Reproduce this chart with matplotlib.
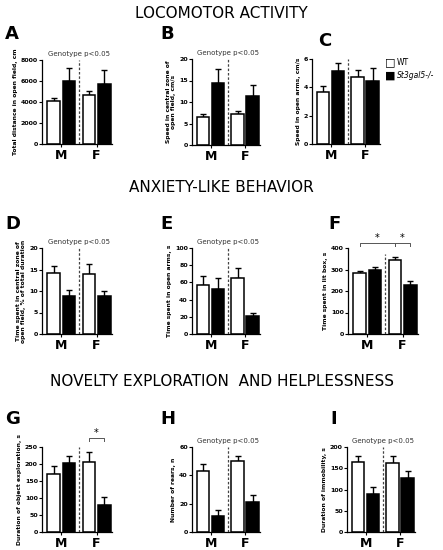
import matplotlib.pyplot as plt
import numpy as np

# group means and SEM: order WT-M, KO-M, WT-F, KO-F
dist_mean = [4100, 6000, 4700, 5700]
dist_err = [300, 1200, 350, 1350]
speed_c_mean = [6.5, 14.4, 7.1, 11.3]
speed_c_err = [0.6, 3.3, 0.8, 2.7]
speed_o_mean = [3.7, 5.15, 4.7, 4.45]
speed_o_err = [0.4, 0.55, 0.5, 0.9]
center_mean = [14.2, 8.8, 14.0, 8.8]
center_err = [1.5, 1.5, 2.2, 1.3]
open_mean = [57, 52, 65, 21]
open_err = [10, 13, 12, 3]
lit_mean = [285, 298, 345, 228]
lit_err = [10, 12, 12, 18]
explo_mean = [172, 202, 205, 78]
explo_err = [22, 22, 30, 25]
rears_mean = [43, 11, 50, 21]
rears_err = [5, 4.5, 3.5, 5]
immob_mean = [165, 89, 162, 127]
immob_err = [13, 17, 17, 17]

groups = ['M', 'F']
xpos = np.array([0.0, 1.0, 2.3, 3.3])

W, H = 443, 550
fig = plt.figure(figsize=(W / 100, H / 100), dpi=100)


def make_ax(x, ytop, w, ybot):
    return fig.add_axes([x / W, 1 - ybot / H, w / W, (ybot - ytop) / H])


def panel(ax, mean, err, ymax, ystep, ylabel, genotype=True, dash_top=1.0):
    ax.errorbar(xpos, mean, yerr=[np.zeros(4), err], fmt='none', ecolor='black',
                elinewidth=1.0, capsize=2.5, capthick=1.0, zorder=1)
    ax.bar(xpos, mean, width=0.82, color=['white', 'black', 'white', 'black'],
           edgecolor='black', linewidth=1.1, zorder=2)
    ax.set_xlim(-0.75, 3.8)
    ax.set_ylim(0, ymax)
    ax.set_yticks(np.arange(0, ymax + ystep / 2, ystep))
    ax.set_xticks([0.5, 2.8])
    ax.set_xticklabels(groups, fontsize=9, fontweight='bold')
    for lab in ax.get_yticklabels():
        lab.set_fontweight('bold')
    ax.tick_params(axis='y', labelsize=4.5, length=2, width=0.8, pad=1)
    ax.tick_params(axis='x', length=2.5, width=0.8, pad=1)
    ax.spines['top'].set_visible(False)
    ax.spines['right'].set_visible(False)
    ax.spines['left'].set_linewidth(0.9)
    ax.spines['bottom'].set_linewidth(0.9)
    ax.axvline(1.65, ymin=0, ymax=dash_top, color='#444444', ls=(0, (2, 1.5)), lw=0.9)
    ax.set_ylabel(ylabel, fontsize=4.3, fontweight='bold', labelpad=2, linespacing=1.0)
    if genotype:
        ax.text(1.65, 1.04, 'Genotype p<0.05', transform=ax.get_xaxis_transform(),
                ha='center', va='bottom', fontsize=5, color='#333333')


def letter(x, y, s):
    fig.text(x / W, 1 - y / H, s, fontsize=13, fontweight='bold', ha='left', va='center')


def header(y, s):
    fig.text(0.5, 1 - y / H, s, fontsize=11, ha='center', va='center')


header(13, 'LOCOMOTOR ACTIVITY')
header(188, 'ANXIETY-LIKE BEHAVIOR')
header(381, 'NOVELTY EXPLORATION  AND HELPLESSNESS')

letter(5, 34, 'A')
letter(160, 34, 'B')
letter(318, 41, 'C')
letter(5, 224, 'D')
letter(160, 224, 'E')
letter(328, 224, 'F')
letter(5, 419, 'G')
letter(160, 419, 'H')
letter(330, 419, 'I')

axA = make_ax(42, 60, 70, 144)
panel(axA, dist_mean, dist_err, 8000, 2000, 'Total distance in open field, cm')
axB = make_ax(192, 59, 68, 145)
panel(axB, speed_c_mean, speed_c_err, 20, 5, 'Speed in central zone of\nopen field, cm/s')
axC = make_ax(312, 59, 68, 144)
panel(axC, speed_o_mean, speed_o_err, 6, 2, 'Speed in open arms, cm/s', genotype=False)

axD = make_ax(42, 248, 70, 334)
panel(axD, center_mean, center_err, 20, 5,
      'Time spent in central zone of\nopen field, % of total duration')
axE = make_ax(192, 248, 68, 334)
panel(axE, open_mean, open_err, 100, 20, 'Time spent in open arms, s')
axF = make_ax(348, 248, 70, 334)
panel(axF, lit_mean, lit_err, 400, 100, 'Time spent in lit box, s', genotype=False, dash_top=0.93)

axG = make_ax(42, 447, 70, 532)
panel(axG, explo_mean, explo_err, 250, 50, 'Duration of object exploration, s', genotype=False)
axH = make_ax(192, 447, 68, 532)
panel(axH, rears_mean, rears_err, 60, 20, 'Number of rears, n')
axI = make_ax(347, 447, 68, 532)
panel(axI, immob_mean, immob_err, 200, 50, 'Duration of immobility, s')


def bracket(ax, x1, x2, y, h):
    ax.plot([x1, x1, x2, x2], [y - h, y, y, y - h], color='#555555', lw=0.7, clip_on=False)
    ax.text((x1 + x2) / 2, y, '*', ha='center', va='bottom', fontsize=7, clip_on=False)


bracket(axF, xpos[0], xpos[2], 423, 14)
bracket(axF, xpos[2], xpos[3], 423, 14)
bracket(axG, xpos[2], xpos[3], 276, 9)

# legend next to panel C
fig.text(385 / W, 1 - 62 / H, '\u25a1', fontsize=8, ha='left', va='center')
fig.text(397 / W, 1 - 62 / H, 'WT', fontsize=5.5, ha='left', va='center')
fig.text(385 / W, 1 - 76 / H, '\u25a0', fontsize=8, ha='left', va='center')
fig.text(397 / W, 1 - 76 / H, 'St3gal5-/-', fontsize=5.5, style='italic', ha='left', va='center')

fig.savefig('out.png', dpi=100)
